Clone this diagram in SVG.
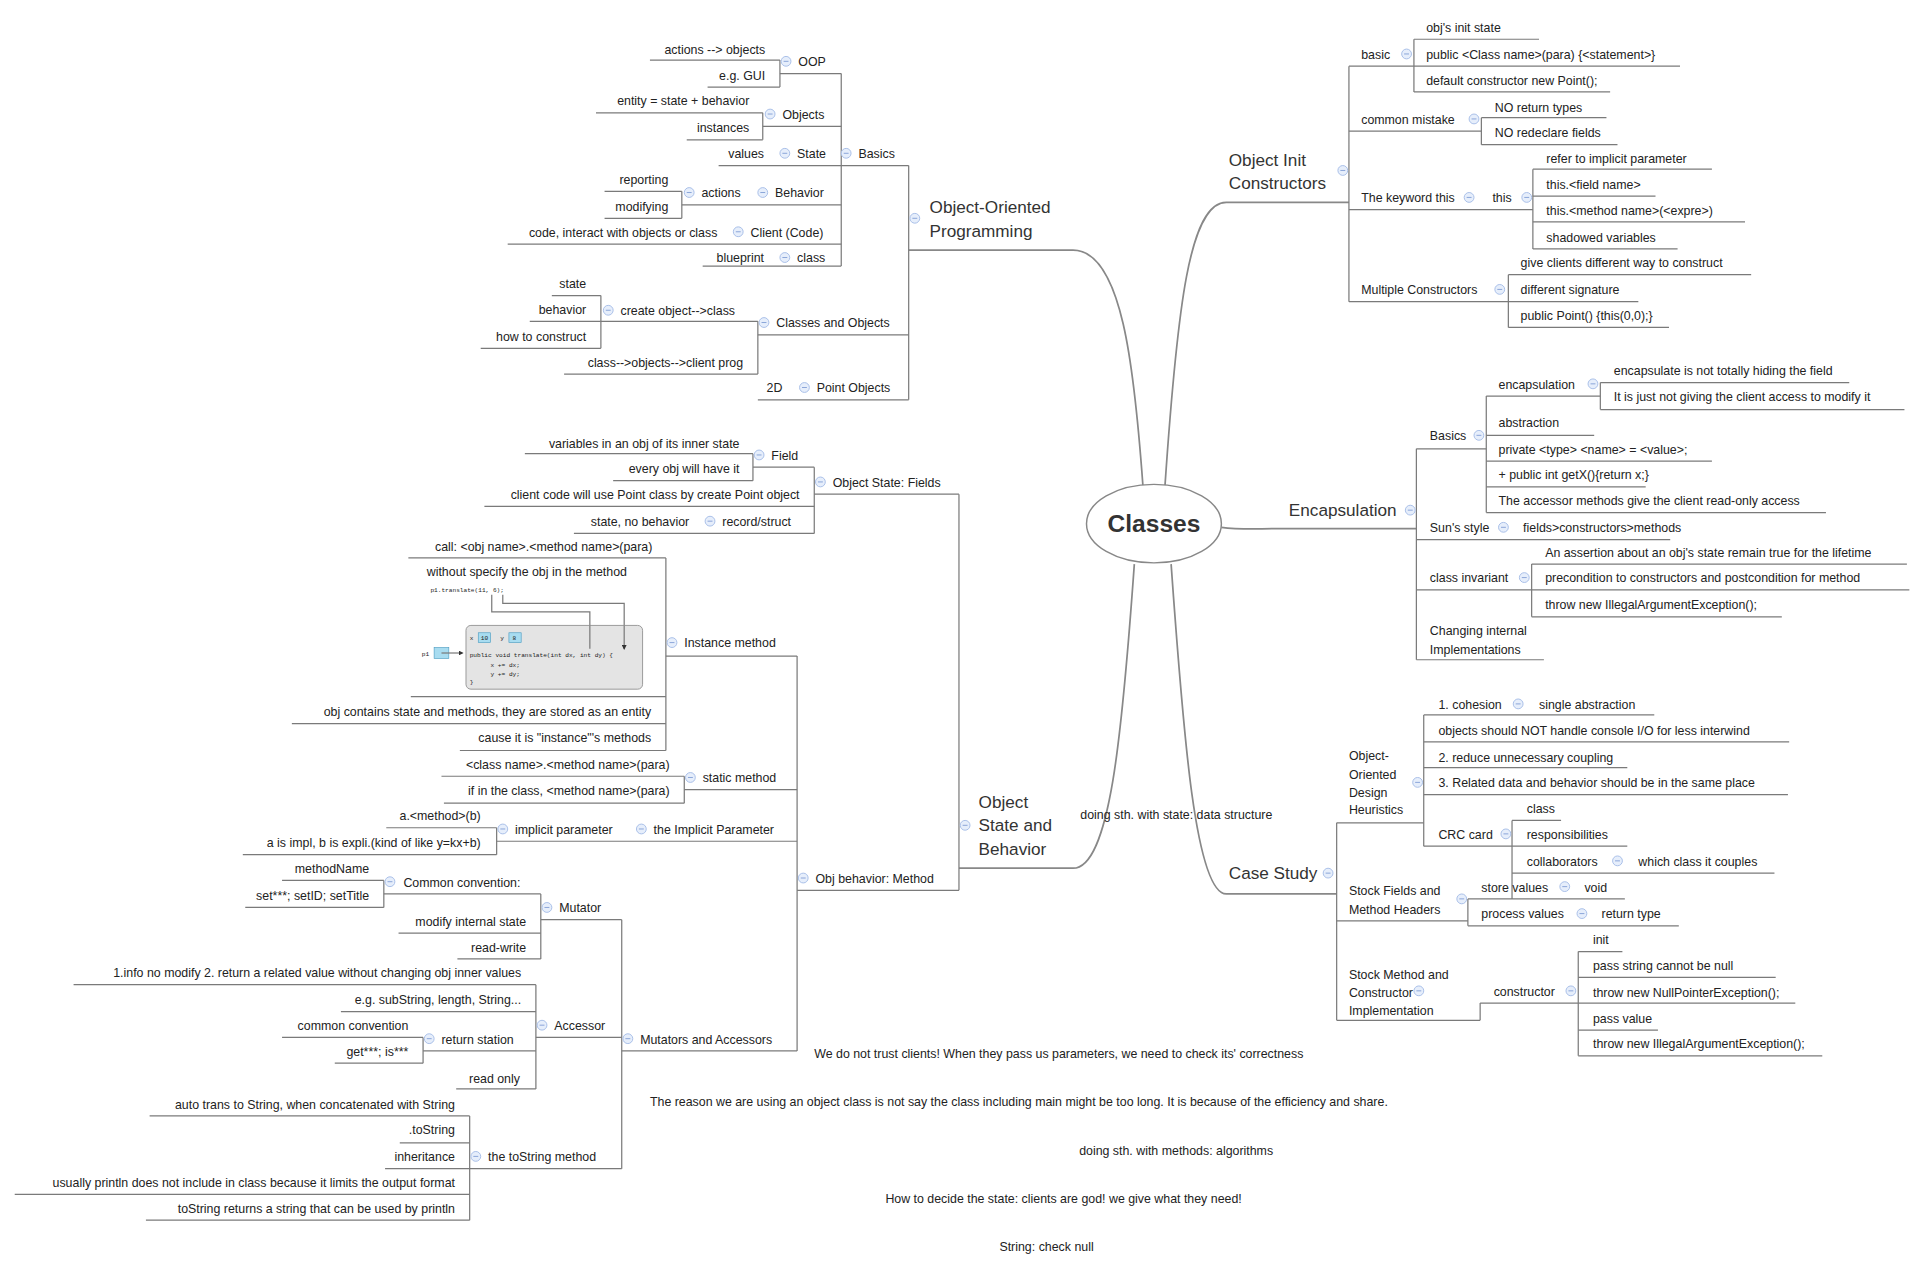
<svg xmlns="http://www.w3.org/2000/svg" xmlns:xlink="http://www.w3.org/1999/xlink" width="1913" height="1273" viewBox="0 0 1913 1273">
<style>
text{font-family:"Liberation Sans","DejaVu Sans",sans-serif;fill:#222;font-size:10.1px}
.b{font-size:14px;fill:#333}
.e{text-anchor:end}
.u{stroke:#7a7a7a;stroke-width:1;fill:none}
.k{stroke:#7a7a7a;stroke-width:1;fill:none}
.cv{stroke:#888;stroke-width:1.4;fill:none}
.m{font-family:"Liberation Mono",monospace;font-size:5px}
</style>
<defs>
<g id="c"><circle r="4" fill="#e6eefb" stroke="#a8bfe8" stroke-width="0.8"/><line x1="-2" y1="0" x2="2" y2="0" stroke="#8aa4d8" stroke-width="0.8"/></g>
<marker id="ar" markerWidth="4" markerHeight="4" refX="3" refY="2" orient="auto"><path d="M0,0L4,2L0,4z" fill="#333"/></marker>
</defs>
<rect width="1913" height="1273" fill="#fff"/>
<g transform="scale(1.2263)">
<g id="connectors">
<path class="cv" d="M932,396 C925,300 915,204 875,204 L741,204"/>
<path class="cv" d="M950,396 C960,250 970,165 1000,165 L1100,165"/>
<path class="cv" d="M996,430 Q1010,432 1040,431 L1155,431"/>
<path class="cv" d="M925,460 C915,600 905,708 875,708 L782,708"/>
<path class="cv" d="M955,460 C965,600 975,729 1000,729 L1090,729"/>
<path class="k" d="M741,135V326M686,60V217M636,49V71M622,92V114M556,156V178M618,262V305M490,241V284"/>
<path class="k" d="M782,403V726M664,381V435M614,370V392M650,535V857M543,455V612M558,633V655M405,675V697M507,750V953M441,729V782M313,718V740M437,803V888M345,846V867M383,910V995"/>
<path class="k" d="M1100,54V246M1153,32V75M1208,96V118M1250,138V203M1230,224V267"/>
<path class="k" d="M1155,366V538M1212,323V418M1305,312V334M1249,460V503"/>
<path class="k" d="M1090,671V832M1161,583V690M1233,669V733M1197,733V755M1287,776V861M1207,832V818"/>
</g>
<g id="center"><ellipse cx="941" cy="427" rx="55" ry="32" fill="#fff" stroke="#888" stroke-width="1.2"/><text x="941" y="434" text-anchor="middle" style="font-size:20px;font-weight:bold;fill:#333">Classes</text></g>

<g id="oop">
<text class="b" x="758" y="174">Object-Oriented</text><text class="b" x="758" y="193">Programming</text><use href="#c" x="746" y="178"/>
<g id="basics"><text x="700" y="129">Basics</text><use href="#c" x="690" y="125"/><path class="u" d="M686,135H741"/></g>
<g id="n-oop"><text x="651" y="54">OOP</text><use href="#c" x="641" y="50"/><path class="u" d="M636,60H686"/>
<text class="e" x="624" y="44">actions --&gt; objects</text><path class="u" d="M530,49H636"/>
<text class="e" x="624" y="65">e.g. GUI</text><path class="u" d="M577,71H636"/></g>
<g id="n-objects"><text x="638" y="97">Objects</text><use href="#c" x="628" y="93"/><path class="u" d="M622,103H686"/>
<text class="e" x="611" y="86">entity = state + behavior</text><path class="u" d="M486,92H622"/>
<text class="e" x="611" y="108">instances</text><path class="u" d="M560,114H622"/></g>
<g id="n-state"><text x="650" y="129">State</text><use href="#c" x="640" y="125"/><text class="e" x="623" y="129">values</text><path class="u" d="M586,135H686"/></g>
<g id="n-behavior"><text x="632" y="161">Behavior</text><use href="#c" x="622" y="157"/><text x="572" y="161">actions</text><use href="#c" x="562" y="157"/><path class="u" d="M556,167H686"/>
<text class="e" x="545" y="150">reporting</text><path class="u" d="M493,156H556"/>
<text class="e" x="545" y="172">modifying</text><path class="u" d="M493,178H556"/></g>
<g id="n-client"><text x="612" y="193">Client (Code)</text><use href="#c" x="602" y="189"/><text class="e" x="585" y="193">code, interact with objects or class</text><path class="u" d="M414,199H686"/></g>
<g id="n-class"><text x="650" y="214">class</text><use href="#c" x="640" y="210"/><text class="e" x="623" y="214">blueprint</text><path class="u" d="M573,217H686"/></g>
<g id="n-cao"><text x="633" y="267">Classes and Objects</text><use href="#c" x="623" y="263"/><path class="u" d="M618,273H741"/>
<text x="506" y="257">create object--&gt;class</text><use href="#c" x="496" y="253"/><path class="u" d="M490,262H618"/>
<text class="e" x="478" y="235">state</text><path class="u" d="M450,241H490"/>
<text class="e" x="478" y="256">behavior</text><path class="u" d="M432,262H490"/>
<text class="e" x="478" y="278">how to construct</text><path class="u" d="M392,284H490"/>
<text class="e" x="606" y="299">class--&gt;objects--&gt;client prog</text><path class="u" d="M460,305H618"/></g>
<g id="n-point"><text x="666" y="320">Point Objects</text><use href="#c" x="656" y="316"/><text class="e" x="638" y="320">2D</text><path class="u" d="M618,326H741"/></g>
</g>

<g id="osb">
<text class="b" x="798" y="659">Object</text><text class="b" x="798" y="678">State and</text><text class="b" x="798" y="697">Behavior</text><use href="#c" x="787" y="673"/>
<g id="n-fields"><text x="679" y="397">Object State: Fields</text><use href="#c" x="669" y="393"/><path class="u" d="M664,403H782"/>
<text x="629" y="375">Field</text><use href="#c" x="619" y="371"/><path class="u" d="M614,381H664"/>
<text class="e" x="603" y="365">variables in an obj of its inner state</text><path class="u" d="M428,370H614"/>
<text class="e" x="603" y="386">every obj will have it</text><path class="u" d="M500,392H614"/>
<text class="e" x="652" y="407">client code will use Point class by create Point object</text><path class="u" d="M395,413H664"/>
<text x="589" y="429">record/struct</text><use href="#c" x="579" y="425"/><text class="e" x="562" y="429">state, no behavior</text><path class="u" d="M468,435H664"/></g>
<g id="n-method"><text x="665" y="720">Obj behavior: Method</text><use href="#c" x="655" y="716"/><path class="u" d="M650,726H782"/></g>
<g id="n-instance"><text x="558" y="528">Instance method</text><use href="#c" x="548" y="524"/><path class="u" d="M543,535H650"/>
<text class="e" x="532" y="449">call: &lt;obj name&gt;.&lt;method name&gt;(para)</text><path class="u" d="M333,455H543"/>
<text x="348" y="470">without specify the obj in the method</text>
<text class="m" x="351" y="483">p1.translate(11, 6);</text>
<path class="k" d="M401,485V499H481V529" marker-end="url(#ar)"/><path class="k" d="M410,485V492H509V529" marker-end="url(#ar)"/>
<rect x="380" y="510" width="144" height="52" rx="4" fill="#e4e4e4" stroke="#999" stroke-width="0.8"/>
<path class="k" d="M481,510V529M509,510V529" marker-end="url(#ar)"/>
<text class="m" x="383" y="522">x</text><rect x="390" y="516" width="10" height="8" fill="#a8dcf0" stroke="#4a9ac0" stroke-width="0.5"/><text class="m" x="392" y="522">10</text>
<text class="m" x="408" y="522">y</text><rect x="415" y="516" width="10" height="8" fill="#a8dcf0" stroke="#4a9ac0" stroke-width="0.5"/><text class="m" x="418" y="522">8</text>
<text class="m" x="383" y="536">public void translate(int dx, int dy) {</text>
<text class="m" x="400" y="544">x += dx;</text><text class="m" x="400" y="551">y += dy;</text><text class="m" x="383" y="558">}</text>
<text class="m" x="344" y="535">p1</text><rect x="354" y="528" width="12" height="9" fill="#a8dcf0" stroke="#4a9ac0" stroke-width="0.5"/><path class="k" d="M360,532.5H377" marker-end="url(#ar)"/>
<path class="u" d="M335,568H543"/>
<text class="e" x="531" y="584">obj contains state and methods, they are stored as an entity</text><path class="u" d="M238,590H543"/>
<text class="e" x="531" y="605">cause it is "instance"'s methods</text><path class="u" d="M375,612H543"/></g>
<g id="n-static"><text x="573" y="638">static method</text><use href="#c" x="563" y="634"/><path class="u" d="M558,644H650"/>
<text class="e" x="546" y="627">&lt;class name&gt;.&lt;method name&gt;(para)</text><path class="u" d="M360,633H558"/>
<text class="e" x="546" y="648">if in the class, &lt;method name&gt;(para)</text><path class="u" d="M362,655H558"/></g>
<g id="n-implicit"><text x="533" y="680">the Implicit Parameter</text><use href="#c" x="523" y="676"/><text x="420" y="680">implicit parameter</text><use href="#c" x="410" y="676"/><path class="u" d="M405,686H650"/>
<text class="e" x="392" y="669">a.&lt;method&gt;(b)</text><path class="u" d="M315,675H405"/>
<text class="e" x="392" y="691">a is impl, b is expli.(kind of like y=kx+b)</text><path class="u" d="M198,697H405"/></g>
<g id="n-ma"><text x="522" y="851">Mutators and Accessors</text><use href="#c" x="512" y="847"/><path class="u" d="M507,857H650"/></g>
<g id="n-mutator"><text x="456" y="744">Mutator</text><use href="#c" x="446" y="740"/><path class="u" d="M441,750H507"/>
<text x="329" y="723">Common convention:</text><use href="#c" x="318" y="719"/><path class="u" d="M313,729H441"/>
<text class="e" x="301" y="712">methodName</text><path class="u" d="M230,718H313"/>
<text class="e" x="301" y="734">set***; setID; setTitle</text><path class="u" d="M200,740H313"/>
<text class="e" x="429" y="755">modify internal state</text><path class="u" d="M325,761H441"/>
<text class="e" x="429" y="776">read-write</text><path class="u" d="M373,782H441"/></g>
<g id="n-accessor"><text x="452" y="840">Accessor</text><use href="#c" x="442" y="836"/><path class="u" d="M437,846H507"/>
<text class="e" x="425" y="797">1.info no modify 2. return a related value without changing obj inner values</text><path class="u" d="M60,803H437"/>
<text class="e" x="425" y="819">e.g. subString, length, String...</text><path class="u" d="M278,825H437"/>
<text x="360" y="851">return station</text><use href="#c" x="350" y="847"/><path class="u" d="M345,857H437"/>
<text class="e" x="333" y="840">common convention</text><path class="u" d="M230,846H345"/>
<text class="e" x="333" y="861">get***; is***</text><path class="u" d="M273,867H345"/>
<text class="e" x="424" y="883">read only</text><path class="u" d="M372,888H437"/></g>
<g id="n-tostring"><text x="398" y="947">the toString method</text><use href="#c" x="388" y="943"/><path class="u" d="M383,953H507"/>
<text class="e" x="371" y="904">auto trans to String, when concatenated with String</text><path class="u" d="M122,910H383"/>
<text class="e" x="371" y="925">.toString</text><path class="u" d="M326,932H383"/>
<text class="e" x="371" y="947">inheritance</text><path class="u" d="M314,953H383"/>
<text class="e" x="371" y="968">usually println does not include in class because it limits the output format</text><path class="u" d="M12,974H383"/>
<text class="e" x="371" y="989">toString returns a string that can be used by println</text><path class="u" d="M119,995H383"/></g>
</g>

<g id="init">
<text class="b" x="1002" y="135">Object Init</text><text class="b" x="1002" y="154">Constructors</text><use href="#c" x="1095" y="139"/>
<g id="n-basic"><text x="1110" y="48">basic</text><use href="#c" x="1147" y="44"/><path class="u" d="M1100,54H1153"/>
<text x="1163" y="26">obj's init state</text><path class="u" d="M1153,32H1255"/>
<text x="1163" y="48">public &lt;Class name&gt;(para) {&lt;statement&gt;}</text><path class="u" d="M1153,54H1370"/>
<text x="1163" y="69">default constructor new Point();</text><path class="u" d="M1153,75H1313"/></g>
<g id="n-mistake"><text x="1110" y="101">common mistake</text><use href="#c" x="1202" y="97"/><path class="u" d="M1100,107H1208"/>
<text x="1219" y="91">NO return types</text><path class="u" d="M1208,96H1310"/>
<text x="1219" y="112">NO redeclare fields</text><path class="u" d="M1208,118H1319"/></g>
<g id="n-this"><text x="1110" y="165">The keyword this</text><use href="#c" x="1198" y="161"/><text x="1217" y="165">this</text><use href="#c" x="1245" y="161"/><path class="u" d="M1100,171H1250"/>
<text x="1261" y="133">refer to implicit parameter</text><path class="u" d="M1250,138H1396"/>
<text x="1261" y="154">this.&lt;field name&gt;</text><path class="u" d="M1250,160H1350"/>
<text x="1261" y="175">this.&lt;method name&gt;(&lt;expre&gt;)</text><path class="u" d="M1250,181H1423"/>
<text x="1261" y="197">shadowed variables</text><path class="u" d="M1250,203H1368"/></g>
<g id="n-multi"><text x="1110" y="240">Multiple Constructors</text><use href="#c" x="1223" y="236"/><path class="u" d="M1100,246H1230"/>
<text x="1240" y="218">give clients different way to construct</text><path class="u" d="M1230,224H1428"/>
<text x="1240" y="240">different signature</text><path class="u" d="M1230,246H1336"/>
<text x="1240" y="261">public Point() {this(0,0);}</text><path class="u" d="M1230,267H1361"/></g>
</g>

<g id="encap">
<text class="b" x="1051" y="421">Encapsulation</text><use href="#c" x="1150" y="416"/>
<g id="n-ebasics"><text x="1166" y="359">Basics</text><use href="#c" x="1206" y="355"/><path class="u" d="M1155,366H1212"/>
<text x="1222" y="317">encapsulation</text><use href="#c" x="1299" y="313"/><path class="u" d="M1212,323H1305"/>
<text x="1316" y="306">encapsulate is not totally hiding the field</text><path class="u" d="M1305,312H1508"/>
<text x="1316" y="327">It is just not giving the client access to modify it</text><path class="u" d="M1305,334H1553"/>
<text x="1222" y="348">abstraction</text><path class="u" d="M1212,355H1300"/>
<text x="1222" y="370">private &lt;type&gt; &lt;name&gt; = &lt;value&gt;;</text><path class="u" d="M1212,376H1396"/>
<text x="1222" y="391">+ public int getX(){return x;}</text><path class="u" d="M1212,397H1342"/>
<text x="1222" y="412">The accessor methods give the client read-only access</text><path class="u" d="M1212,418H1489"/></g>
<g id="n-sun"><text x="1166" y="434">Sun's style</text><use href="#c" x="1226" y="430"/><text x="1242" y="434">fields&gt;constructors&gt;methods</text><path class="u" d="M1155,440H1362"/></g>
<g id="n-inv"><text x="1166" y="475">class invariant</text><use href="#c" x="1243" y="471"/><path class="u" d="M1155,481H1249"/>
<text x="1260" y="454">An assertion about an obj's state remain true for the lifetime</text><path class="u" d="M1249,460H1555"/>
<text x="1260" y="475">precondition to constructors and postcondition for method</text><path class="u" d="M1249,481H1557"/>
<text x="1260" y="497">throw new IllegalArgumentException();</text><path class="u" d="M1249,503H1453"/></g>
<g id="n-changing"><text x="1166" y="518">Changing internal</text><text x="1166" y="533">Implementations</text><path class="u" d="M1155,538H1259"/></g>
</g>

<g id="case">
<text class="b" x="1002" y="717">Case Study</text><use href="#c" x="1083" y="712"/>
<g id="n-heur"><text x="1100" y="620">Object-</text><text x="1100" y="635">Oriented</text><text x="1100" y="650">Design</text><text x="1100" y="664">Heuristics</text><use href="#c" x="1156" y="638"/><path class="u" d="M1090,671H1161"/>
<text x="1173" y="578">1. cohesion</text><use href="#c" x="1238" y="574"/><text x="1255" y="578">single abstraction</text><path class="u" d="M1161,583H1349"/>
<text x="1173" y="599">objects should NOT handle console I/O for less interwind</text><path class="u" d="M1161,605H1459"/>
<text x="1173" y="621">2. reduce unnecessary coupling</text><path class="u" d="M1161,626H1327"/>
<text x="1173" y="642">3. Related data and behavior should be in the same place</text><path class="u" d="M1161,648H1458"/>
<text x="1173" y="684">CRC card</text><use href="#c" x="1228" y="680"/><path class="u" d="M1161,690H1233"/>
<text x="1245" y="663">class</text><path class="u" d="M1233,669H1273"/>
<text x="1245" y="684">responsibilities</text><path class="u" d="M1233,690H1327"/>
<text x="1245" y="706">collaborators</text><use href="#c" x="1319" y="702"/><text x="1336" y="706">which class it couples</text><path class="u" d="M1233,712H1447"/></g>
<g id="n-fieldsh"><text x="1100" y="730">Stock Fields and</text><text x="1100" y="745">Method Headers</text><use href="#c" x="1192" y="733"/><path class="u" d="M1090,751H1197"/>
<text x="1208" y="727">store values</text><use href="#c" x="1276" y="723"/><text x="1292" y="727">void</text><path class="u" d="M1197,733H1325"/>
<text x="1208" y="749">process values</text><use href="#c" x="1290" y="745"/><text x="1306" y="749">return type</text><path class="u" d="M1197,755H1369"/></g>
<g id="n-impl"><text x="1100" y="798">Stock Method and</text><text x="1100" y="813">Constructor</text><text x="1100" y="828">Implementation</text><use href="#c" x="1157" y="808"/><path class="u" d="M1090,832H1207"/>
<text x="1218" y="812">constructor</text><use href="#c" x="1281" y="808"/><path class="u" d="M1207,818H1287"/>
<text x="1299" y="770">init</text><path class="u" d="M1287,776H1323"/>
<text x="1299" y="791">pass string cannot be null</text><path class="u" d="M1287,797H1448"/>
<text x="1299" y="813">throw new NullPointerException();</text><path class="u" d="M1287,818H1464"/>
<text x="1299" y="834">pass value</text><path class="u" d="M1287,840H1352"/>
<text x="1299" y="855">throw new IllegalArgumentException();</text><path class="u" d="M1287,861H1486"/></g>
</g>

<g id="notes">
<text x="881" y="668">doing sth. with state: data structure</text>
<text x="664" y="863">We do not trust clients! When they pass us parameters, we need to check its' correctness</text>
<text x="530" y="902">The reason we are using an object class is not say the class including main might be too long. It is because of the efficiency and share.</text>
<text x="880" y="942">doing sth. with methods: algorithms</text>
<text x="722" y="981">How to decide the state: clients are god! we give what they need!</text>
<text x="815" y="1020">String: check null</text>
</g>
</g>
</svg>
